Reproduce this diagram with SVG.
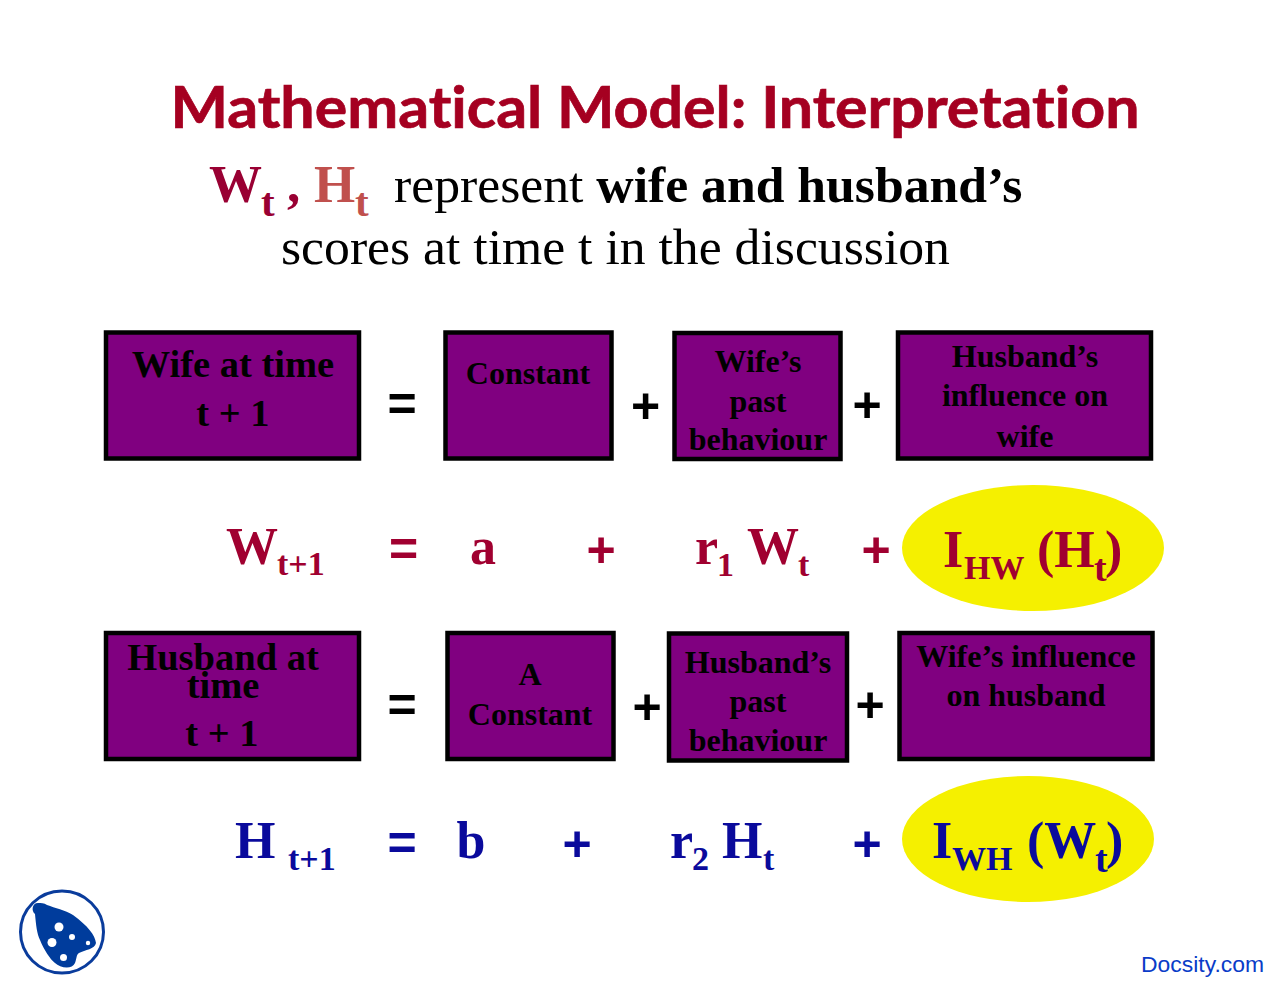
<svg xmlns="http://www.w3.org/2000/svg" width="1280" height="989" viewBox="0 0 1280 989">
<style>
text{font-family:"Liberation Serif","Times New Roman",serif;font-weight:700;text-anchor:middle}
.box{fill:#800080;stroke:#000;stroke-width:4.5}
.b1{font-size:38.5px}
.b2{font-size:32px}
.op{font-family:"Liberation Sans",Arial,sans-serif;font-size:50px;fill:#000}
.w{fill:#a00030;font-size:52px}
.h{fill:#0a0a9c;font-size:52px}
.s{text-anchor:start}
.el{fill:#f5f000}
.sub{font-size:34px}
</style>
<rect width="1280" height="989" fill="#fff"/>
<g id="title"><text x="655" y="128" textLength="969" lengthAdjust="spacingAndGlyphs" style="font-family:Lato,'Open Sans',sans-serif;font-size:58px;font-variant-ligatures:none;stroke:#a50021;stroke-width:.7" fill="#a50021">Mathematical Model: Interpretation</text></g>
<g id="subtitle">
<text class="s" x="209" y="202" font-size="53" fill="#990033">W</text><text class="s" x="261" y="216" font-size="41" fill="#990033">t</text>
<text class="s" x="287" y="202" font-size="53" fill="#990033">,</text>
<text class="s" x="314" y="202" font-size="53" fill="#c0504d">H</text><text class="s" x="355" y="216" font-size="41" fill="#c0504d">t</text>
<text class="s" x="394" y="202" font-size="51.700" style="font-weight:400">represent <tspan style="font-weight:700">wife and husband’s</tspan></text>
<text class="s" x="281" y="264" font-size="51.700" style="font-weight:400">scores at time t in the discussion</text>
</g>
<g id="box-wife"><rect class="box" x="106" y="332.500" width="253" height="126"/><text class="b1" x="233" y="377">Wife at time</text><text class="b1" x="233" y="426">t + 1</text></g>
<text class="op" x="402" y="421">=</text>
<g id="box-constant"><rect class="box" x="445.500" y="332.500" width="166" height="126"/><text class="b2" x="528" y="384">Constant</text></g>
<text class="op" x="645.500" y="423">+</text>
<g id="box-wife-past"><rect class="box" x="674.500" y="333" width="166" height="126"/><text class="b2" x="758" y="372">Wife’s</text><text class="b2" x="758" y="412">past</text><text class="b2" x="758" y="450">behaviour</text></g>
<text class="op" x="867" y="422">+</text>
<g id="box-husband-influence"><rect class="box" x="898" y="332.500" width="253" height="126"/><text class="b2" x="1025" y="367">Husband’s</text><text class="b2" x="1025" y="406">influence on</text><text class="b2" x="1025" y="447">wife</text></g>
<g id="eq-wife">
<text class="w s" x="226" y="564">W</text><text class="w s sub" x="277" y="575">t+1</text>
<text class="op" x="403.500" y="566" style="fill:#a00030">=</text>
<text class="w" x="483" y="564">a</text>
<text class="op" x="601" y="567" style="fill:#a00030">+</text>
<text class="w s" x="695" y="564">r</text><text class="w s sub" x="717" y="576">1</text><text class="w s" x="747" y="564">W</text><text class="w s sub" x="798" y="576">t</text>
<text class="op" x="876" y="567" style="fill:#a00030">+</text>
</g>
<g id="ellipse-ihw"><ellipse class="el" cx="1033" cy="548" rx="131" ry="63"/>
<text class="w s" x="943" y="567">I</text><text class="w s sub" x="964" y="579">HW</text><text class="w s" x="1037" y="567">(H</text><text class="w s" x="1094" y="581" style="font-size:38px">t</text><text class="w s" x="1105" y="567">)</text></g>
<g id="box-husband"><rect class="box" x="106" y="633" width="253" height="126"/><text class="b1" x="223" y="670">Husband at</text><text class="b1" x="223" y="698">time</text><text class="b1" x="222" y="746">t + 1</text></g>
<text class="op" x="402" y="722">=</text>
<g id="box-a-constant"><rect class="box" x="447.500" y="633" width="166" height="126"/><text class="b2" x="530" y="685">A</text><text class="b2" x="530" y="725">Constant</text></g>
<text class="op" x="647" y="724">+</text>
<g id="box-husband-past"><rect class="box" x="669" y="633.500" width="178" height="127"/><text class="b2" x="758" y="673">Husband’s</text><text class="b2" x="758" y="712">past</text><text class="b2" x="758" y="751">behaviour</text></g>
<text class="op" x="870" y="722">+</text>
<g id="box-wife-influence"><rect class="box" x="899.500" y="633" width="253" height="126"/><text class="b2" x="1026" y="667">Wife’s influence</text><text class="b2" x="1026" y="706">on husband</text></g>
<g id="eq-husband">
<text class="h s" x="235" y="858">H</text><text class="h s sub" x="288" y="870">t+1</text>
<text class="op" x="402" y="860" style="fill:#0a0a9c">=</text>
<text class="h" x="471" y="858">b</text>
<text class="op" x="577" y="861" style="fill:#0a0a9c">+</text>
<text class="h s" x="670" y="858">r</text><text class="h s sub" x="692" y="870">2</text><text class="h s" x="722" y="858">H</text><text class="h s sub" x="763" y="870">t</text>
<text class="op" x="867" y="861" style="fill:#0a0a9c">+</text>
</g>
<g id="ellipse-iwh"><ellipse class="el" cx="1028" cy="839" rx="126" ry="63"/>
<text class="h s" x="932" y="858">I</text><text class="h s sub" x="952" y="870">WH</text><text class="h s" x="1027" y="858">(W</text><text class="h s" x="1095" y="872" style="font-size:38px">t</text><text class="h s" x="1106" y="858">)</text></g>
<g id="logo">
<ellipse cx="62" cy="932" rx="41.500" ry="41" fill="#fff" stroke="#0a3c9c" stroke-width="3"/>
<path d="M38 903C32 903 31 911 35 914C36 925 37 934 40 940C44 950 50 959 55 963C60 968 72 970 75 963C77 958 76 955 79 953C85 950 95 949 96 943C95 935 88 926 73 915C65 910 55 908 47 905C44 903 41 903 38 903Z" fill="#003c9c"/>
<circle cx="59" cy="927" r="4.500" fill="#fff"/><circle cx="72" cy="937" r="3" fill="#fff"/><circle cx="52" cy="942.500" r="4.500" fill="#fff"/><circle cx="88" cy="943" r="2.200" fill="#fff"/><circle cx="63.500" cy="957.500" r="3.500" fill="#fff"/>
</g>
<text id="docsity" x="1264" y="972" style="font-family:'Liberation Sans',Arial,sans-serif;font-weight:400;font-size:22.900px;text-anchor:end" fill="#0a3cc8">Docsity.com</text>
</svg>
